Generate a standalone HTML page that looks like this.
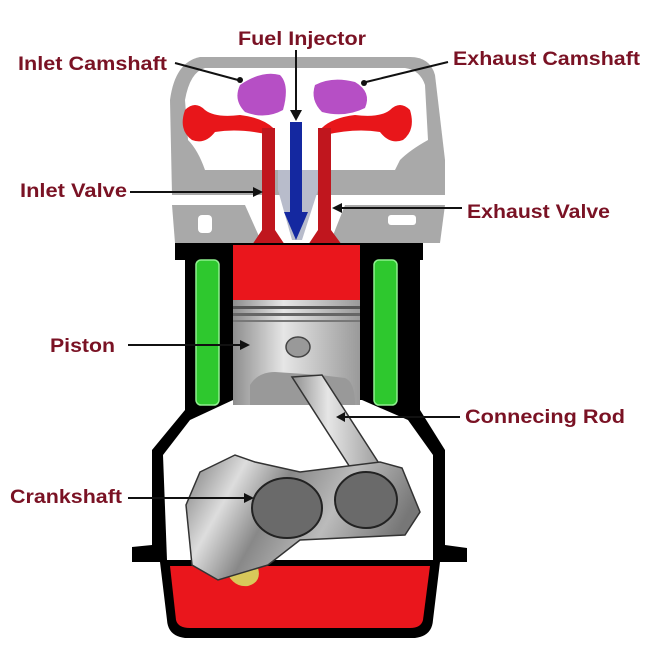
<!DOCTYPE html>
<html><head><meta charset="utf-8"><style>
html,body{margin:0;padding:0;background:#fff;width:648px;height:648px;overflow:hidden}
text{font-family:"Liberation Sans Narrow","Liberation Sans",sans-serif;font-weight:bold;fill:#7a1224;font-size:19px}
</style></head><body>
<svg width="648" height="648" viewBox="0 0 648 648" xmlns="http://www.w3.org/2000/svg">
<defs>
<linearGradient id="pg" x1="0" x2="1" y1="0" y2="0">
<stop offset="0" stop-color="#8e8e8e"/><stop offset="0.4" stop-color="#e6e6e6"/><stop offset="1" stop-color="#9a9a9a"/></linearGradient>
<linearGradient id="cg" x1="0" x2="1" y1="0" y2="0.3">
<stop offset="0" stop-color="#777"/><stop offset="0.25" stop-color="#ddd"/><stop offset="0.45" stop-color="#888"/><stop offset="0.7" stop-color="#bbb"/><stop offset="1" stop-color="#777"/></linearGradient>
</defs>
<!-- cylinder head -->
<path d="M200,57 L410,57 Q430,57 435,75 L445,160 L445,195 L172,195 L170,100 Q175,62 200,57 Z" fill="#a9a9a9"/>
<path d="M205,68 L405,68 Q420,70 425,85 L428,140 Q410,150 400,160 L395,170 L205,170 Q198,150 188,140 L185,100 Q190,72 205,68 Z" fill="#fff"/>
<path d="M172,205 L245,205 L262,243 L175,243 Z" fill="#a9a9a9"/>
<path d="M345,205 L445,205 L440,243 L330,243 Z" fill="#a9a9a9"/>
<rect x="198" y="215" width="14" height="18" rx="4" fill="#fff"/>
<rect x="388" y="215" width="28" height="10" rx="3" fill="#fff"/>
<path d="M278,170 L318,170 L318,190 L302,240 L292,240 L278,190 Z" fill="#b8bccb"/>
<!-- cams -->
<path d="M240,85 Q262,70 280,75 Q290,85 283,110 Q265,120 245,112 Q233,100 240,85 Z" fill="#b64fc5"/>
<path d="M315,85 Q332,76 355,82 Q372,92 365,108 Q345,118 322,112 Q310,100 315,85 Z" fill="#b64fc5"/>
<!-- rockers -->
<path d="M185,110 Q195,100 205,110 Q215,118 240,115 Q265,118 275,130 L270,135 Q240,128 215,132 Q205,145 192,140 Q178,130 185,110 Z" fill="#e8161a"/>
<path d="M410,110 Q400,100 390,110 Q380,118 355,115 Q330,118 320,130 L325,135 Q355,128 380,132 Q390,145 403,140 Q416,130 410,110 Z" fill="#e8161a"/>
<!-- valve stems -->
<rect x="262" y="128" width="13" height="115" fill="#c0161e"/>
<rect x="318" y="128" width="13" height="115" fill="#c0161e"/>
<path d="M262,230 L275,230 L285,245 L252,245 Z M318,230 L331,230 L342,245 L308,245 Z" fill="#c0161e"/>
<!-- injector -->
<rect x="290" y="122" width="12" height="95" fill="#1428a0"/>
<path d="M284,212 L308,212 L296,240 Z" fill="#1428a0"/>
<!-- block -->
<path d="M175,243 L423,243 L423,260 L420,260 L420,410 L445,450 L445,545 L467,548 L467,562 L440,562 L433,620 Q432,636 415,638 L185,638 Q168,636 167,620 L160,562 L132,562 L132,547 L152,545 L152,450 L185,410 L185,260 L175,260 Z" fill="#000"/>
<path d="M233,400 L362,400 L408,420 L433,455 L433,560 L167,560 L163,455 L190,420 Z" fill="#fff"/>
<path d="M170,566 L430,566 L423,620 Q421,628 410,628 L190,628 Q178,628 176,620 Z" fill="#ea161c"/>
<path d="M225,568 Q240,560 258,568 Q262,582 248,586 Q232,588 225,568 Z" fill="#d8c85a"/>
<rect x="196" y="260" width="23" height="145" rx="5" fill="#2ec82e" stroke="#8ef08e" stroke-width="1.5"/>
<rect x="374" y="260" width="23" height="145" rx="5" fill="#2ec82e" stroke="#8ef08e" stroke-width="1.5"/>
<!-- combustion -->
<rect x="233" y="245" width="127" height="55" fill="#ea161c"/>
<!-- piston -->
<rect x="233" y="300" width="127" height="105" fill="url(#pg)"/>
<rect x="233" y="306" width="127" height="3" fill="#555"/>
<rect x="233" y="313" width="127" height="3" fill="#666"/>
<rect x="233" y="320" width="127" height="2" fill="#777"/>
<path d="M250,405 L250,385 Q258,372 275,372 L320,375 L345,378 Q355,382 355,405 Z" fill="#999"/>
<ellipse cx="298" cy="347" rx="12" ry="10" fill="#999" stroke="#444" stroke-width="1.5"/>
<!-- rod -->
<path d="M292,377 L322,375 L382,468 L355,475 Z" fill="url(#pg)" stroke="#333" stroke-width="1.5"/>
<!-- crankshaft -->
<path d="M200,472 L235,455 L255,462 L300,472 L380,462 L402,468 L420,512 L405,535 L300,540 L268,565 L218,580 L192,565 L186,505 Z" fill="url(#cg)" stroke="#333" stroke-width="1.5"/>
<ellipse cx="287" cy="508" rx="35" ry="30" fill="#6a6a6a" stroke="#222" stroke-width="2"/>
<ellipse cx="366" cy="500" rx="31" ry="28" fill="#6a6a6a" stroke="#222" stroke-width="2"/>
<!-- leader lines -->
<g stroke="#111" stroke-width="2" fill="none">
<line x1="296" y1="50" x2="296" y2="112"/>
<line x1="175" y1="63" x2="238" y2="80"/>
<line x1="448" y1="62" x2="366" y2="82"/>
<line x1="130" y1="192" x2="255" y2="192"/>
<line x1="462" y1="208" x2="340" y2="208"/>
<line x1="128" y1="345" x2="240" y2="345"/>
<line x1="460" y1="417" x2="345" y2="417"/>
<line x1="128" y1="498" x2="245" y2="498"/>
</g>
<g fill="#111">
<path d="M290,110 L302,110 L296,121 Z"/>
<path d="M253,187 L263,192 L253,197 Z"/>
<path d="M342,203 L332,208 L342,213 Z"/>
<path d="M240,340 L250,345 L240,350 Z"/>
<path d="M345,412 L336,417 L345,422 Z"/>
<path d="M244,493 L254,498 L244,503 Z"/>
<circle cx="240" cy="80" r="3"/><circle cx="364" cy="83" r="3"/>
</g>
<!-- labels -->
<text x="238" y="45" textLength="128" lengthAdjust="spacingAndGlyphs">Fuel Injector</text>
<text x="18" y="70" textLength="149" lengthAdjust="spacingAndGlyphs">Inlet Camshaft</text>
<text x="453" y="65" textLength="187" lengthAdjust="spacingAndGlyphs">Exhaust Camshaft</text>
<text x="20" y="197" textLength="107" lengthAdjust="spacingAndGlyphs">Inlet Valve</text>
<text x="467" y="218" textLength="143" lengthAdjust="spacingAndGlyphs">Exhaust Valve</text>
<text x="50" y="352" textLength="65" lengthAdjust="spacingAndGlyphs">Piston</text>
<text x="465" y="423" textLength="160" lengthAdjust="spacingAndGlyphs">Connecing Rod</text>
<text x="10" y="503" textLength="112" lengthAdjust="spacingAndGlyphs">Crankshaft</text>
</svg>
</body></html>
